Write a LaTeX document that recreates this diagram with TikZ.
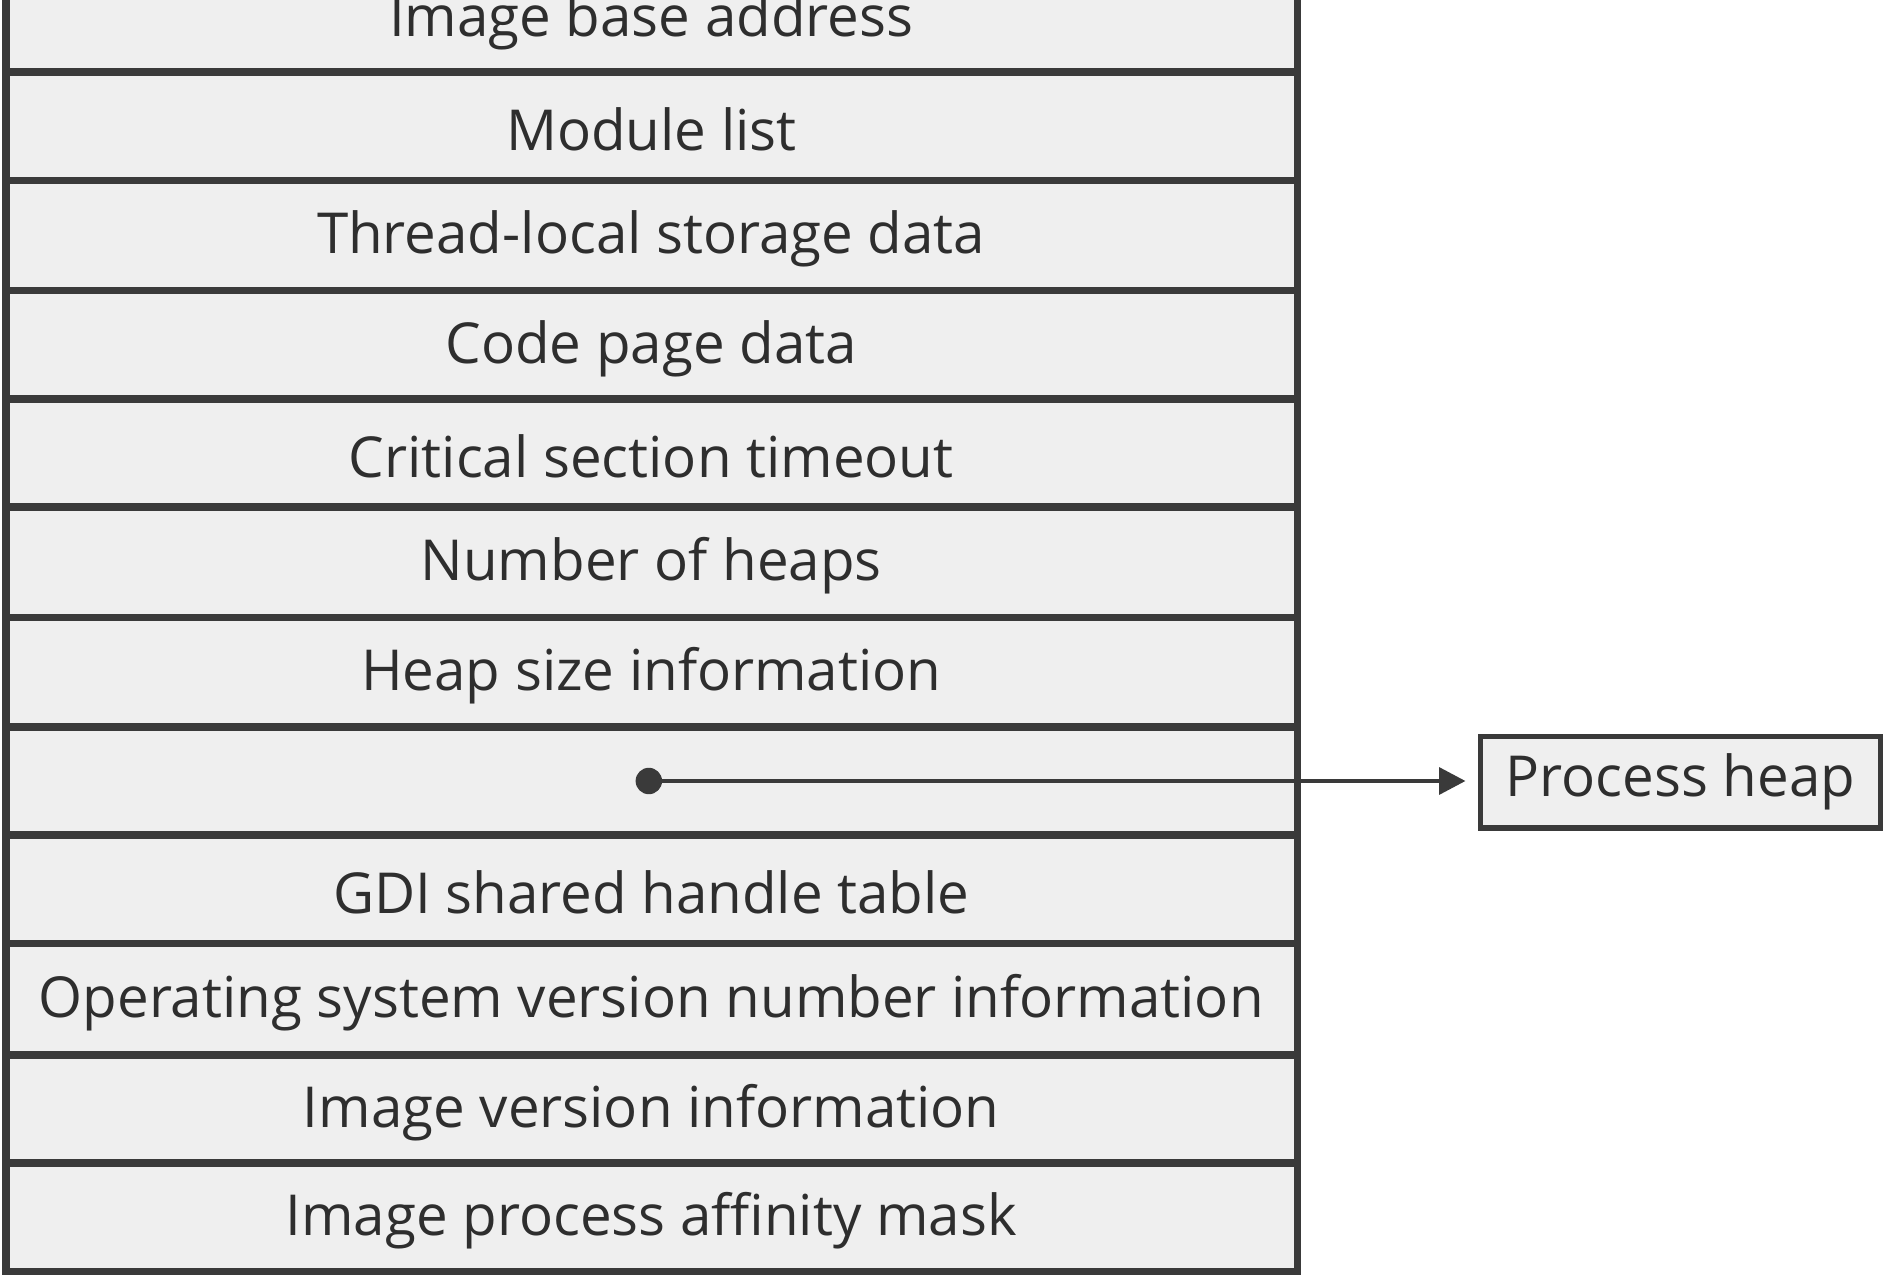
\documentclass[tikz,border=0pt]{standalone}
\usepackage{fontspec}
\setmainfont{Open Sans}
\usetikzlibrary{arrows.meta}
\definecolor{fillg}{HTML}{EFEFEF}
\definecolor{edge}{HTML}{3A3A3A}
\begin{document}
\begin{tikzpicture}[x=1pt,y=-1pt,
  row/.style={draw=edge,line width=6pt,fill=fillg},
  lab/.style={font=\fontsize{47}{54}\selectfont,text=edge!80!black,inner sep=0pt}]
\useasboundingbox (0,0) rectangle (1568,1062);
\begin{scope}
\clip (0,0) rectangle (1568,1062);
\def\ys{{-30,60,150,242,332,422,514,605,695,785,878,968,1058}}
\foreach \i/\t in {0/Image base address,1/Module list,2/Thread-local storage data,3/Code page data,4/Critical section timeout,5/Number of heaps,6/Heap size information,7/,8/GDI shared handle table,9/Operating system version number information,10/Image version information,11/Image process affinity mask}{
  \pgfmathsetmacro\ya{\ys[\i]}
  \pgfmathsetmacro\yb{\ys[\i+1]}
  \draw[row] (5,\ya) rectangle (1080,\yb);
  \node[lab] (r\i) at (542,{(\ya+\yb)/2+3}) {\t};
}
\end{scope}
\node[draw=edge,line width=4.5pt,fill=fillg,minimum width=333pt,minimum height=76pt,inner sep=0pt,font=\fontsize{47}{54}\selectfont,text=edge!80!black] (ph) at (1398.5,651) {Process heap};
\coordinate (dot) at (540,650);
\fill[edge] (dot) circle (11pt);
\draw[edge,line width=4pt,-{Triangle[length=22pt,width=22pt]}] (dot) -- ([xshift=-10pt]ph.west |- dot);
\end{tikzpicture}
\end{document}
